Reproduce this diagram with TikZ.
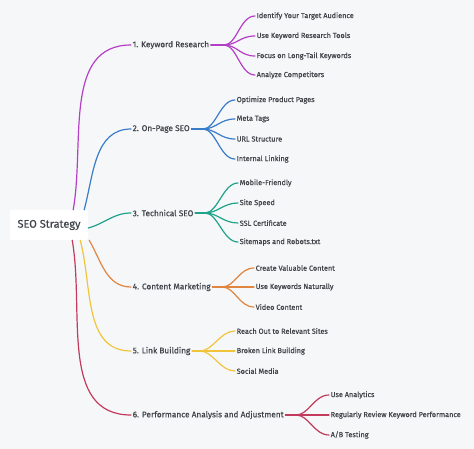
\documentclass[tikz,border=0pt]{standalone}
\usepackage{fontspec}
\setmainfont{Fira Sans}[RawFeature={embolden=0.6}]
\usetikzlibrary{positioning}
\definecolor{SEO_Bg}{HTML}{F6F7F9}
\definecolor{SEO_Text}{HTML}{42454A}
\definecolor{SEO_Purple}{HTML}{B43FC6}
\definecolor{SEO_Blue}{HTML}{3A7CC8}
\definecolor{SEO_Teal}{HTML}{1FA38B}
\definecolor{SEO_Orange}{HTML}{E0853F}
\definecolor{SEO_Yellow}{HTML}{F2C43C}
\definecolor{SEO_Crimson}{HTML}{C23A5C}

\tikzset{
    rootbox/.style={fill=white, text=SEO_Text, font=\fontsize{11}{13}\selectfont,
        minimum width=78pt, minimum height=30pt, inner sep=2pt, rounded corners=1pt},
    branch/.style={anchor=west, text=SEO_Text, font=\fontsize{8.25}{10}\selectfont, inner sep=1.5pt},
    leaf/.style={anchor=west, text=SEO_Text, font=\fontsize{7.3}{9}\selectfont, inner sep=1.5pt},
    edge/.style={line width=1.2pt, line cap=round}
}

\begin{document}
\begin{tikzpicture}[x=1pt, y=-1pt]

    % page is 474 x 449, y grows downwards
    \fill[SEO_Bg] (0,0) rectangle (474,449);
    \useasboundingbox (0,0) rectangle (474,449);

    % === root ===
    \node[rootbox] (root) at (49,225) {SEO Strategy};

    % === main branches ===
    \node[branch] (b1) at (131,45)  {1. Keyword Research};
    \node[branch] (b2) at (131,129) {2. On-Page SEO};
    \node[branch] (b3) at (131,213) {3. Technical SEO};
    \node[branch] (b4) at (131,287) {4. Content Marketing};
    \node[branch] (b5) at (131,351) {5. Link Building};
    \node[branch] (b6) at (131,415) {6. Performance Analysis and Adjustment};

    \draw[edge, SEO_Purple]  ([xshift=-15pt]root.north east) to[out=80, in=180] (b1.west);
    \draw[edge, SEO_Blue]    ([xshift=-4pt]root.north east)  to[out=75, in=180] (b2.west);
    \draw[edge, SEO_Teal]    ([yshift=-3pt]root.east)         to[out=15, in=180] (b3.west);
    \draw[edge, SEO_Orange]  ([xshift=1pt]root.south east)    to[out=-60, in=180] (b4.west);
    \draw[edge, SEO_Yellow]  ([xshift=-8pt]root.south east)   to[out=-75, in=180] (b5.west);
    \draw[edge, SEO_Crimson] ([xshift=-16pt]root.south east)  to[out=-80, in=180] (b6.west);

    % === 1. Keyword Research ===
    \coordinate (h1) at (224,45);
    \node[leaf] (l1a) at (255,16) {Identify Your Target Audience};
    \node[leaf] (l1b) at (255,36) {Use Keyword Research Tools};
    \node[leaf] (l1c) at (255,56) {Focus on Long-Tail Keywords};
    \node[leaf] (l1d) at (255,75) {Analyze Competitors};
    \draw[edge, SEO_Purple] (b1.east) -- (h1);
    \foreach \l in {a,b,c,d}
        \draw[edge, SEO_Purple] (h1) .. controls +(13,0) and +(-15,0) .. (l1\l.west);

    % === 2. On-Page SEO ===
    \coordinate (h2) at (203,129);
    \node[leaf] (l2a) at (235,100) {Optimize Product Pages};
    \node[leaf] (l2b) at (235,119) {Meta Tags};
    \node[leaf] (l2c) at (235,139) {URL Structure};
    \node[leaf] (l2d) at (235,159) {Internal Linking};
    \draw[edge, SEO_Blue] (b2.east) -- (h2);
    \foreach \l in {a,b,c,d}
        \draw[edge, SEO_Blue] (h2) .. controls +(13,0) and +(-15,0) .. (l2\l.west);

    % === 3. Technical SEO ===
    \coordinate (h3) at (205,213);
    \node[leaf] (l3a) at (238,183) {Mobile-Friendly};
    \node[leaf] (l3b) at (238,203) {Site Speed};
    \node[leaf] (l3c) at (238,223) {SSL Certificate};
    \node[leaf] (l3d) at (238,242) {Sitemaps and Robots.txt};
    \draw[edge, SEO_Teal] (b3.east) -- (h3);
    \foreach \l in {a,b,c,d}
        \draw[edge, SEO_Teal] (h3) .. controls +(13,0) and +(-15,0) .. (l3\l.west);

    % === 4. Content Marketing ===
    \coordinate (h4) at (222,287);
    \node[leaf] (l4a) at (254,268) {Create Valuable Content};
    \node[leaf] (l4b) at (254,287) {Use Keywords Naturally};
    \node[leaf] (l4c) at (254,307) {Video Content};
    \draw[edge, SEO_Orange] (b4.east) -- (h4);
    \foreach \l in {a,b,c}
        \draw[edge, SEO_Orange] (h4) .. controls +(13,0) and +(-15,0) .. (l4\l.west);

    % === 5. Link Building ===
    \coordinate (h5) at (200,351);
    \node[leaf] (l5a) at (235,331) {Reach Out to Relevant Sites};
    \node[leaf] (l5b) at (235,351) {Broken Link Building};
    \node[leaf] (l5c) at (235,371) {Social Media};
    \draw[edge, SEO_Yellow] (b5.east) -- (h5);
    \foreach \l in {a,b,c}
        \draw[edge, SEO_Yellow] (h5) .. controls +(13,0) and +(-15,0) .. (l5\l.west);

    % === 6. Performance Analysis and Adjustment ===
    \coordinate (h6) at (296,415);
    \node[leaf] (l6a) at (329,395) {Use Analytics};
    \node[leaf] (l6b) at (329,415) {Regularly Review Keyword Performance};
    \node[leaf] (l6c) at (329,435) {A/B Testing};
    \draw[edge, SEO_Crimson] (b6.east) -- (h6);
    \foreach \l in {a,b,c}
        \draw[edge, SEO_Crimson] (h6) .. controls +(13,0) and +(-15,0) .. (l6\l.west);

\end{tikzpicture}
\end{document}
